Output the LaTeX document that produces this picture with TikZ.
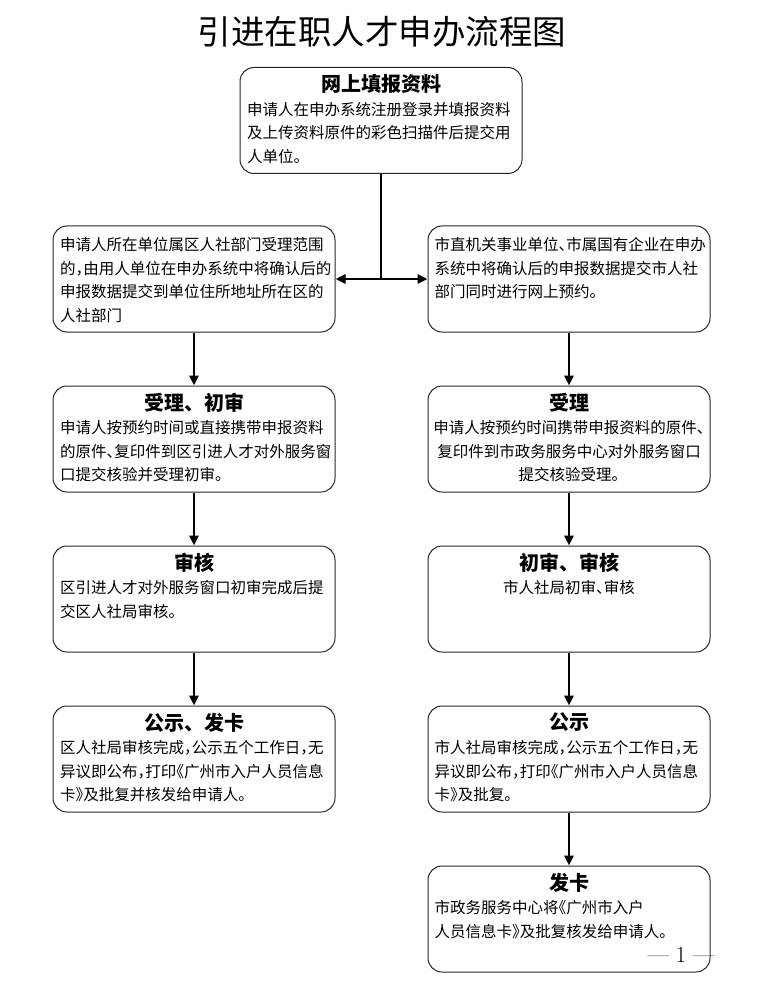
\documentclass[tikz,border=0pt]{standalone}
\usepackage{fontspec}
\usetikzlibrary{positioning, arrows.meta}
\newfontfamily\cjk{Noto Sans CJK SC}
\newfontfamily\cjkbody[RawFeature=+halt]{Noto Sans CJK SC}
\tikzset{
  stage/.style={rectangle, draw=black!85, line width=1pt,
    rounded corners=14pt, minimum width=282pt, minimum height=106pt},
  headtxt/.style={inner sep=0pt, font=\cjk\bfseries\fontsize{20}{24}\selectfont},
  bodytxt/.style={inner sep=0pt, align=left,
    font=\cjkbody\fontsize{15.5}{23.5}\selectfont},
  flow/.style={line width=2.5pt, -{Triangle[length=10pt,width=9pt]}},
}
\begin{document}
\begin{tikzpicture}[x=1pt, y=-1pt]
    \useasboundingbox (0,0) rectangle (766,1000);

    \node[inner sep=0pt, font=\cjk\fontsize{33.5}{40}\selectfont]
      (title) at (382,32) {引进在职人才申办流程图};

    \node[stage] (top) at (381,120.5) {};
    \node[stage] (l2) at (194,279) {};
    \node[stage] (r2) at (569,279) {};

    \node[stage, below=53pt of l2] (l3) {};
    \node[stage, below=53pt of l3] (l4) {};
    \node[stage, below=53pt of l4] (l5) {};

    \node[stage, below=53pt of r2] (r3) {};
    \node[stage, below=53pt of r3] (r4) {};
    \node[stage, below=53pt of r4] (r5) {};
    \node[stage, below=53pt of r5] (r6) {};

      \node[headtxt] (toph) at ([yshift=-17pt]top.north) {网上填报资料};
      \node[bodytxt, anchor=north west] (topb)
        at ([xshift=7.5pt, yshift=-35pt]top.north west)
        {申请人在申办系统注册登录并填报资料\\
         及上传资料原件的彩色扫描件后提交用\\
         人单位。};

      \node[bodytxt, anchor=north west] (l2b)
        at ([xshift=7.5pt, yshift=-12pt]l2.north west)
        {申请人所在单位属区人社部门受理范围\\
         的，由用人单位在申办系统中将确认后的\\
         申报数据提交到单位住所地址所在区的\\
         人社部门};

      \node[bodytxt, anchor=north west] (r2b)
        at ([xshift=7pt, yshift=-12pt]r2.north west)
        {市直机关事业单位、市属国有企业在申办\\
         系统中将确认后的申报数据提交市人社\\
         部门同时进行网上预约。};

      \node[headtxt] (l3h) at ([yshift=-17pt]l3.north) {受理、初审};
      \node[bodytxt, anchor=north west] (l3b)
        at ([xshift=7.5pt, yshift=-35pt]l3.north west)
        {申请人按预约时间或直接携带申报资料\\
         的原件、复印件到区引进人才对外服务窗\\
         口提交核验并受理初审。};

      \node[headtxt] (r3h) at ([yshift=-17pt]r3.north) {受理};
      \node[bodytxt, align=center, anchor=north] (r3b)
        at ([yshift=-35pt]r3.north)
        {申请人按预约时间携带申报资料的原件、\\
         复印件到市政务服务中心对外服务窗口\\
         提交核验受理。};

      \node[headtxt] (l4h) at ([yshift=-17pt]l4.north) {审核};
      \node[bodytxt, anchor=north west] (l4b)
        at ([xshift=7.5pt, yshift=-35pt]l4.north west)
        {区引进人才对外服务窗口初审完成后提\\
         交区人社局审核。};

      \node[headtxt] (r4h) at ([yshift=-17pt]r4.north) {初审、审核};
      \node[bodytxt, align=center, anchor=north] (r4b)
        at ([yshift=-35pt]r4.north) {市人社局初审、审核};

      \node[headtxt] (l5h) at ([yshift=-17pt]l5.north) {公示、发卡};
      \node[bodytxt, anchor=north west] (l5b)
        at ([xshift=7.5pt, yshift=-35pt]l5.north west)
        {区人社局审核完成，公示五个工作日，无\\
         异议即公布，打印《广州市入户人员信息\\
         卡》及批复并核发给申请人。};

      \node[headtxt] (r5h) at ([yshift=-17pt]r5.north) {公示};
      \node[bodytxt, anchor=north west] (r5b)
        at ([xshift=7pt, yshift=-35pt]r5.north west)
        {市人社局审核完成，公示五个工作日，无\\
         异议即公布，打印《广州市入户人员信息\\
         卡》及批复。};

      \node[headtxt] (r6h) at ([yshift=-17pt]r6.north) {发卡};
      \node[bodytxt, anchor=north west] (r6b)
        at ([xshift=7pt, yshift=-35pt]r6.north west)
        {市政务服务中心将《广州市入户\\
         人员信息卡》及批复核发给申请人。};

      \node[inner sep=0pt, font=\fontsize{23}{27}\selectfont]
        (pageno) at (681,955) {--- 1 ---};

      \coordinate (fork) at (top.south |- l2.east);
      \draw[line width=2.5pt] (top.south)--(fork);
      \draw[flow] (fork)--(l2.east);
      \draw[flow] (fork)--(r2.west);

      \draw[flow] (l2)--(l3);
      \draw[flow] (l3)--(l4);
      \draw[flow] (l4)--(l5);

      \draw[flow] (r2)--(r3);
      \draw[flow] (r3)--(r4);
      \draw[flow] (r4)--(r5);
      \draw[flow] (r5)--(r6);
    \end{tikzpicture}
\end{document}
